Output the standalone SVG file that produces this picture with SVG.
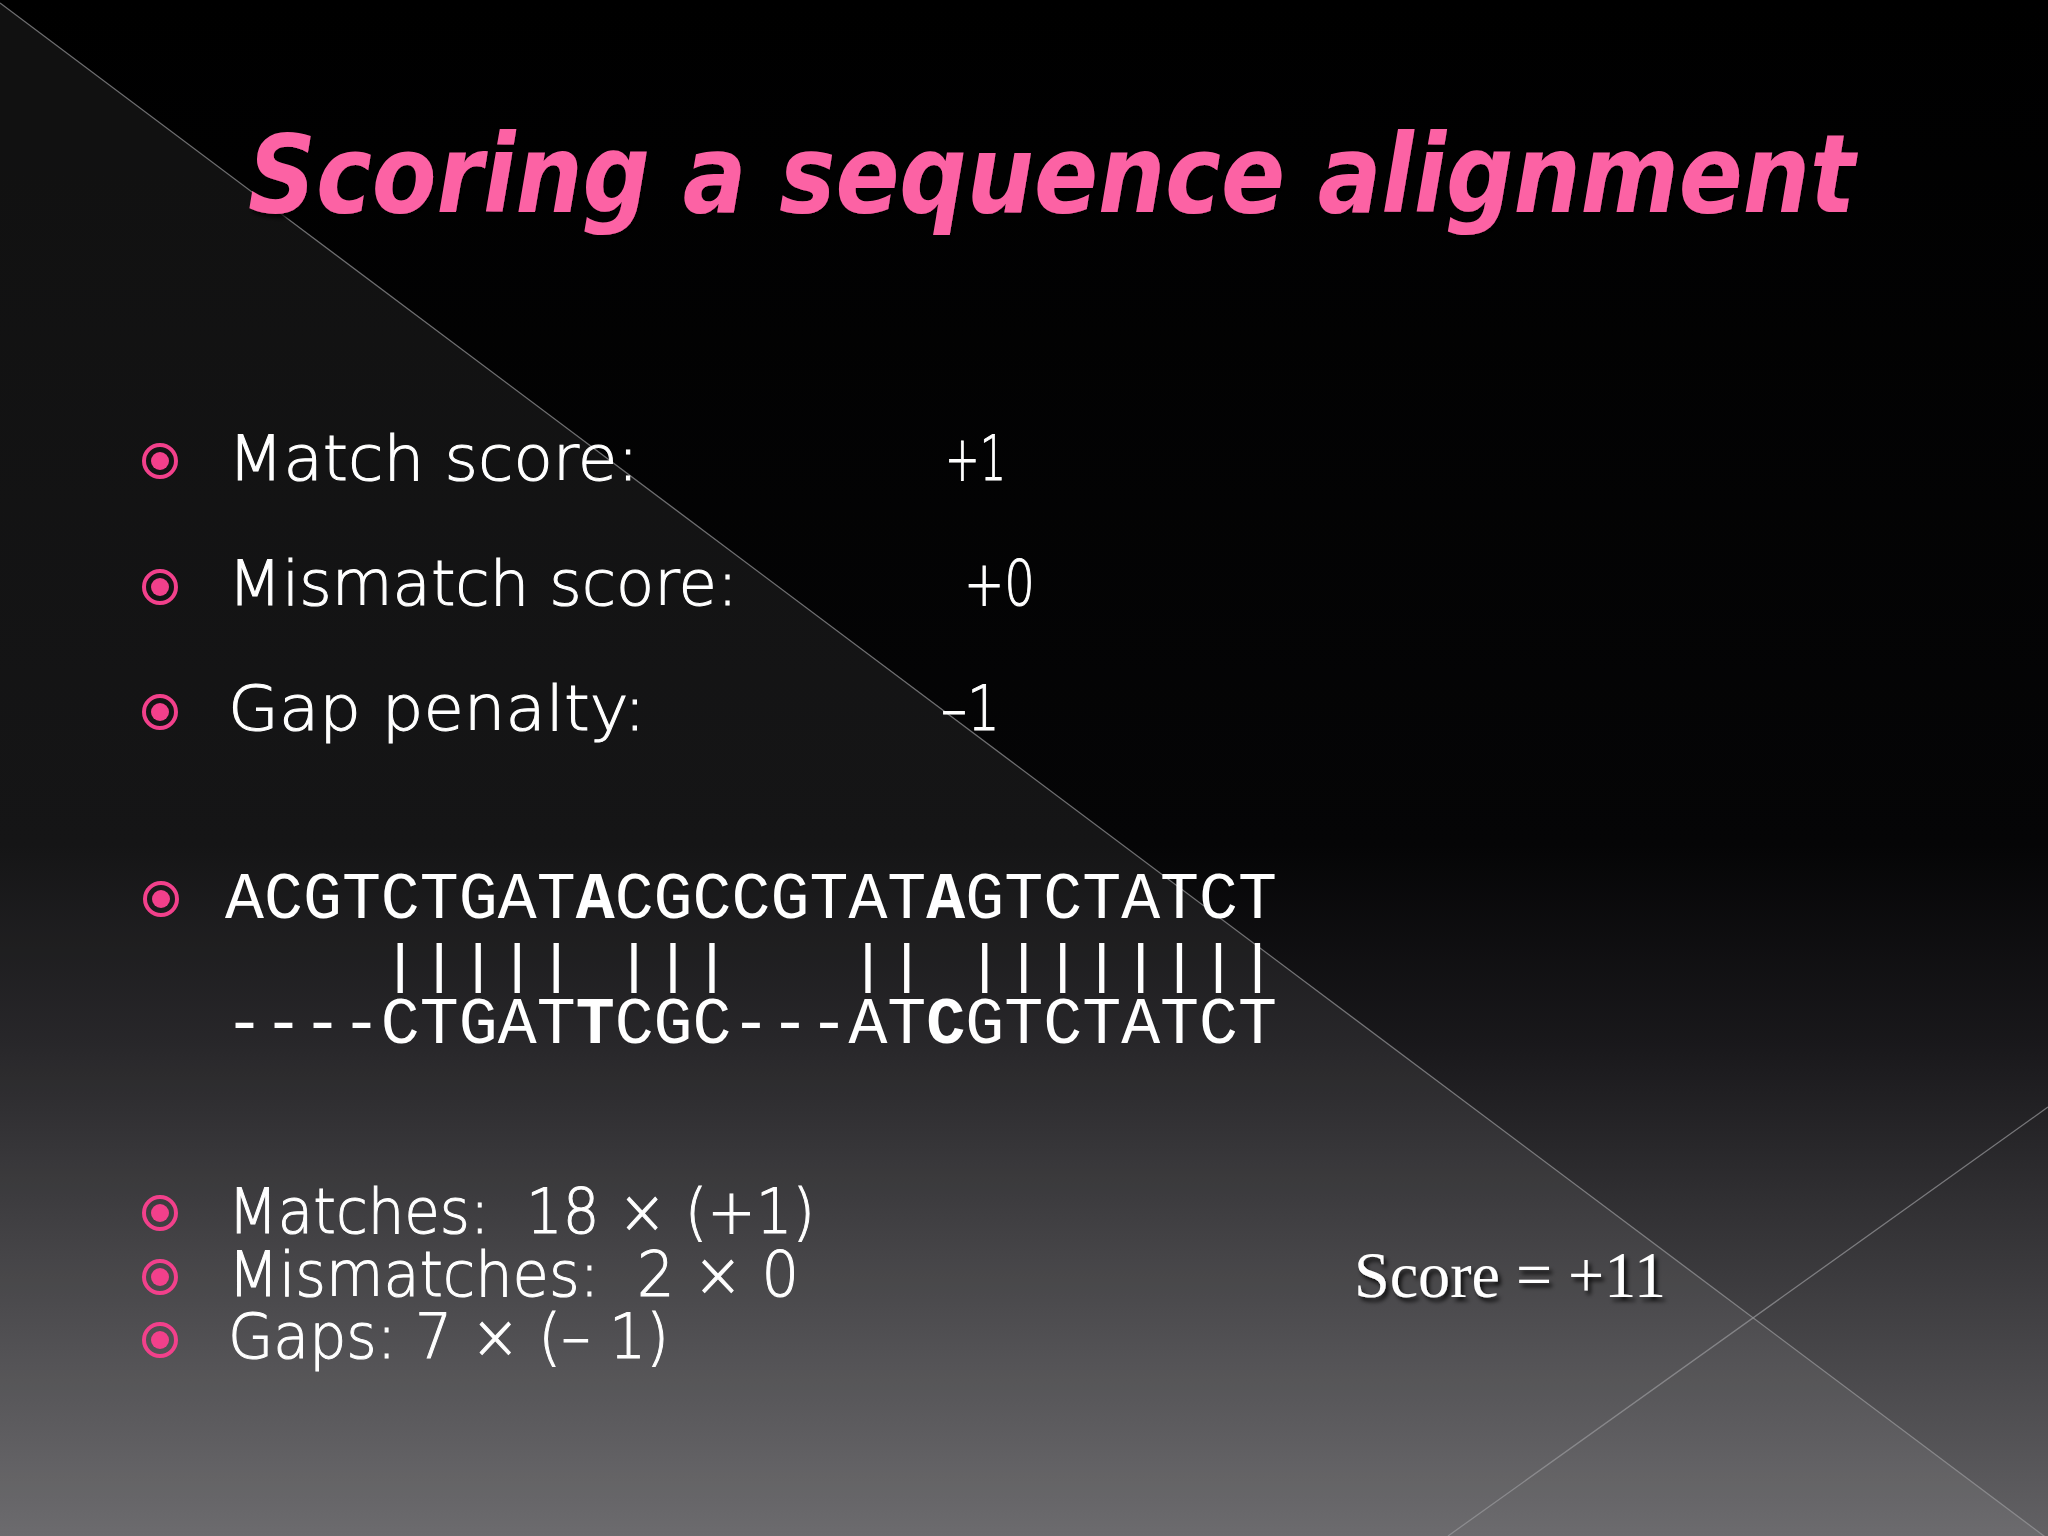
<svg xmlns="http://www.w3.org/2000/svg" width="2048" height="1536" viewBox="0 0 2048 1536">
<defs>
<linearGradient id="bg" x1="0" y1="0" x2="0" y2="1">
<stop offset="0" stop-color="#000000"/>
<stop offset="0.55" stop-color="#050506"/>
<stop offset="0.68" stop-color="#19181b"/>
<stop offset="1" stop-color="#626164"/>
</linearGradient>
<filter id="sh" x="-5%" y="-30%" width="110%" height="160%">
<feDropShadow dx="3" dy="4" stdDeviation="2" flood-color="#000" flood-opacity="0.8"/>
</filter>
<g id="bul">
<circle r="16" fill="none" stroke="#f2408b" stroke-width="4"/>
<circle r="9" fill="#f2408b"/>
</g>
</defs>
<style>
.cg{font-family:"DejaVu Sans","Liberation Sans",sans-serif;fill:#ffffff;stroke:#ffffff;stroke-width:1;font-size:62px;font-weight:200}
.mono{font-family:"Liberation Mono","DejaVu Sans Mono",monospace;fill:#ffffff;font-size:66px}
.bars{font-family:"Liberation Mono","DejaVu Sans Mono",monospace;fill:#ffffff;font-size:54px}
.ln{stroke:#9a9a9c;stroke-width:1.3;stroke-opacity:0.7;fill:none}
</style>
<g id="background">
<rect width="2048" height="1536" fill="url(#bg)"/>
<polygon points="0,3 2048,1539 0,1539" fill="#ffffff" fill-opacity="0.065"/>
<line class="ln" x1="0" y1="3" x2="2048" y2="1539"/>
<line class="ln" x1="1448" y1="1536" x2="2048" y2="1107"/>
</g>
<g id="title">
<text x="248" y="212" font-family="DejaVu Sans, Liberation Sans, sans-serif" font-size="108" font-weight="bold" font-style="italic" fill="#fc62a4" textLength="1607" lengthAdjust="spacingAndGlyphs" filter="url(#sh)">Scoring a sequence alignment</text>
</g>
<g id="scores">
<use href="#bul" x="160" y="461"/>
<text class="cg" x="228" y="480" textLength="411" lengthAdjust="spacingAndGlyphs">Match score:</text>
<text class="cg" x="945" y="480" textLength="61" lengthAdjust="spacingAndGlyphs">+1</text>
<use href="#bul" x="160" y="587"/>
<text class="cg" x="228" y="605" textLength="510" lengthAdjust="spacingAndGlyphs">Mismatch score:</text>
<text class="cg" x="964" y="605" textLength="71" lengthAdjust="spacingAndGlyphs">+0</text>
<use href="#bul" x="160" y="712"/>
<text class="cg" x="228" y="730" textLength="418" lengthAdjust="spacingAndGlyphs">Gap penalty:</text>
<text class="cg" x="941" y="730" textLength="59" lengthAdjust="spacingAndGlyphs">–1</text>
</g>
<g id="alignment">
<use href="#bul" x="161" y="899"/>
<text class="mono" x="225" y="918" textLength="1052" lengthAdjust="spacingAndGlyphs">ACGTCTGAT<tspan font-weight="bold">A</tspan>CGCCGTAT<tspan font-weight="bold">A</tspan>GTCTATCT</text>
<text class="bars" x="225" y="982" textLength="1052" lengthAdjust="spacingAndGlyphs" xml:space="preserve">    ||||| |||   || ||||||||</text>
<text class="mono" x="225" y="1043" textLength="1052" lengthAdjust="spacingAndGlyphs">----CTGAT<tspan font-weight="bold">T</tspan>CGC---AT<tspan font-weight="bold">C</tspan>GTCTATCT</text>
</g>
<g id="totals">
<use href="#bul" x="160" y="1213"/>
<text class="cg" x="228" y="1233" textLength="587" lengthAdjust="spacingAndGlyphs" xml:space="preserve">Matches:  18 × (+1)</text>
<use href="#bul" x="160" y="1277"/>
<text class="cg" x="228" y="1296" textLength="571" lengthAdjust="spacingAndGlyphs" xml:space="preserve">Mismatches:  2 × 0</text>
<use href="#bul" x="160" y="1340"/>
<text class="cg" x="228" y="1358" textLength="441" lengthAdjust="spacingAndGlyphs">Gaps: 7 × (– 1)</text>
</g>
<g id="score">
<text x="1354" y="1297" font-family="Liberation Serif, Times New Roman, serif" font-size="66" fill="#ffffff" textLength="312" lengthAdjust="spacingAndGlyphs" filter="url(#sh)">Score = +11</text>
</g>
</svg>
